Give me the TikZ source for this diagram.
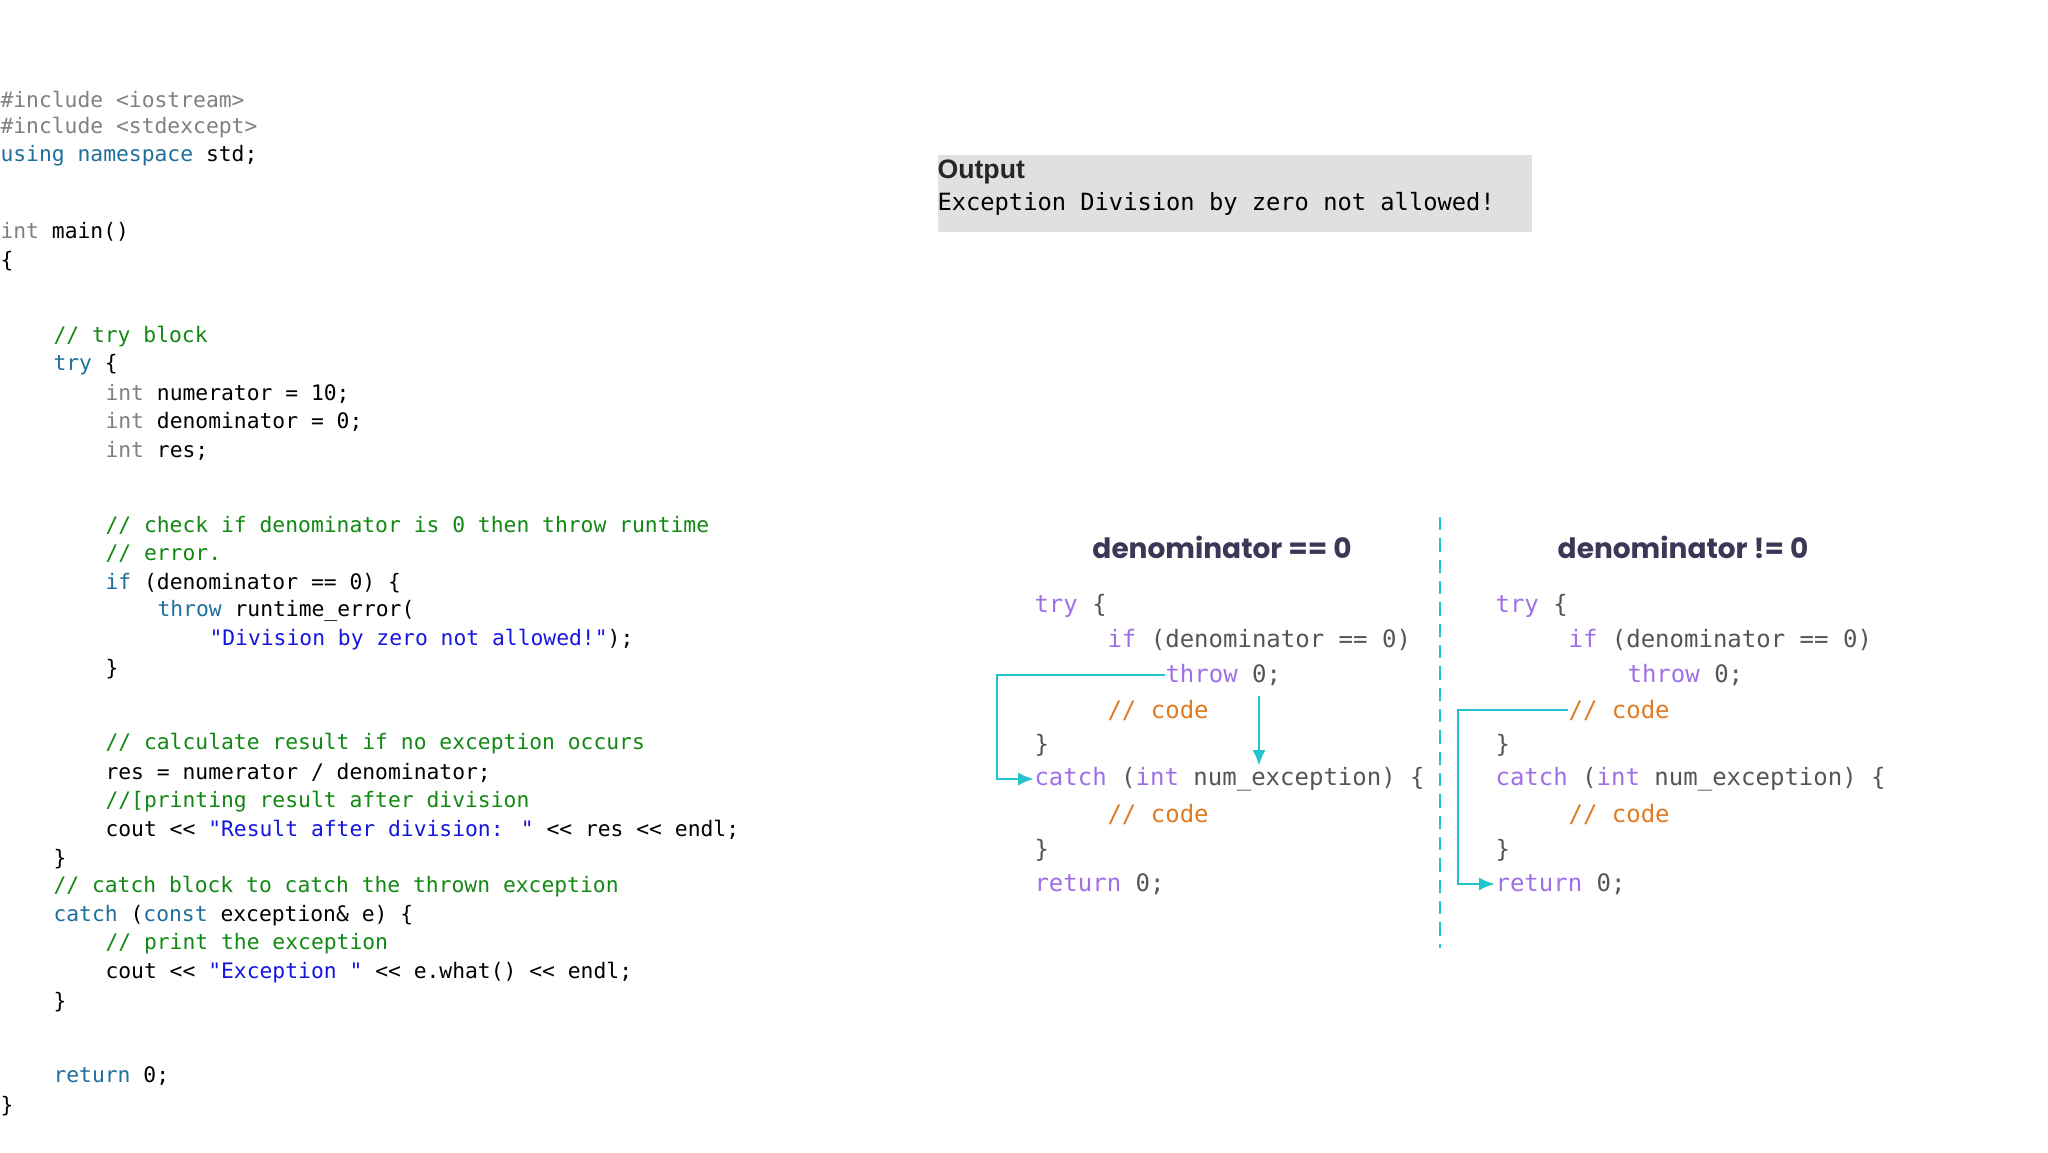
\documentclass[tikz,border=0pt]{standalone}
\usepackage{fontspec}
\setmainfont{Liberation Sans}
\newfontfamily\codefont{DejaVu Sans Mono}
\newfontfamily\titlefont{Poppins}
\definecolor{kw}{HTML}{1F6E9C}
\definecolor{cm}{HTML}{118811}
\definecolor{st}{HTML}{1515E0}
\definecolor{gr}{HTML}{808080}
\definecolor{pk}{HTML}{9F6FE6}
\definecolor{oc}{HTML}{E07B22}
\definecolor{dg}{HTML}{555555}
\definecolor{tl}{HTML}{22C3CC}
\definecolor{tt}{HTML}{3B3857}
\newcommand{\Kw}[1]{\textcolor{kw}{#1}}
\newcommand{\Cm}[1]{\textcolor{cm}{#1}}
\newcommand{\Sx}[1]{\textcolor{st}{#1}}
\newcommand{\Gy}[1]{\textcolor{gr}{#1}}
\newcommand{\Pk}[1]{\textcolor{pk}{#1}}
\newcommand{\Oc}[1]{\textcolor{oc}{#1}}
\usetikzlibrary{arrows.meta}
\tikzset{
 lc/.style={anchor=west,inner sep=0,font=\codefont\fontsize{8}{9}\selectfont},
 dc/.style={anchor=west,inner sep=0,text=dg,font=\codefont\fontsize{9}{10}\selectfont},
 ttl/.style={inner sep=0,text=tt,font=\titlefont\bfseries\fontsize{10.5}{12}\selectfont},
 flow/.style={draw=tl,line width=1.1pt,-{Latex[length=6pt,width=5pt]}}
}
\begin{document}
\begin{tikzpicture}[x=0.375pt,y=-0.375pt]
\useasboundingbox (0,0) rectangle (2048,1152);
% left code
\node[lc] (a1) at (0,99) {\Gy{\#include <iostream>}};
\node[lc] (a2) at (0,128) {\Gy{\#include <stdexcept>}};
\node[lc] (a3) at (0,156) {\Kw{using namespace} std;};
\node[lc] (a4) at (0,232) {\Gy{int} main()};
\node[lc] (a5) at (0,261) {\{};
\node[lc] (a6) at (53,337) {\Cm{// try block}};
\node[lc] (a7) at (53,365) {\Kw{try} \{};
\node[lc] (a8) at (105,394) {\Gy{int} numerator = 10;};
\node[lc] (a9) at (105,422) {\Gy{int} denominator = 0;};
\node[lc] (a10) at (105,451) {\Gy{int} res;};
\node[lc] (a11) at (105,525) {\Cm{// check if denominator is 0 then throw runtime}};
\node[lc] (a12) at (105,554) {\Cm{// error.}};
\node[lc] (a13) at (105,583) {\Kw{if} (denominator == 0) \{};
\node[lc] (a14) at (157,611) {\Kw{throw} runtime\_error(};
\node[lc] (a15) at (209,640) {\Sx{"Division by zero not allowed!"});};
\node[lc] (a16) at (105,669) {\}};
\node[lc] (a17) at (105,744) {\Cm{// calculate result if no exception occurs}};
\node[lc] (a18) at (105,773) {res = numerator / denominator;};
\node[lc] (a19) at (105,802) {\Cm{//[printing result after division}};
\node[lc] (a20) at (105,830) {cout << \Sx{"Result after division: "} << res << endl;};
\node[lc] (a21) at (53,859) {\}};
\node[lc] (a22) at (53,887) {\Cm{// catch block to catch the thrown exception}};
\node[lc] (a23) at (53,916) {\Kw{catch} (\Kw{const} exception\& e) \{};
\node[lc] (a24) at (105,944) {\Cm{// print the exception}};
\node[lc] (a25) at (105,973) {cout << \Sx{"Exception "} << e.what() << endl;};
\node[lc] (a26) at (53,1002) {\}};
\node[lc] (a27) at (53,1076) {\Kw{return} 0;};
\node[lc] (a28) at (0,1106) {\}};
% output box
\node[fill=black!12,minimum width=594*0.375pt,minimum height=77*0.375pt,inner sep=0,anchor=north west] (ob) at (937,154) {};
\node[anchor=west,inner sep=0,font=\bfseries\fontsize{10}{12}\selectfont,text=black!85] (ot) at (937,172) {Output};
\node[anchor=west,inner sep=0,font=\codefont\fontsize{8.9}{10}\selectfont] (om) at (937,204) {Exception Division by zero not allowed!};
% titles and divider
\node[ttl] (t1) at (1222,547) {denominator == 0};
\node[ttl] (t2) at (1683,547) {denominator != 0};
\coordinate (d1) at (1440,517); \coordinate (d2) at (1440,948);
\draw[tl,line width=1pt,dash pattern=on 5pt off 3pt] (d1) -- (d2);
% left diagram code
\node[dc] (b1) at (1034,606) {\Pk{try} \{};
\node[dc] (b2) at (1107,640) {\Pk{if} (denominator == 0)};
\node[dc] (b3) at (1165,675) {\Pk{throw} 0;};
\node[dc] (b4) at (1107,710) {\Oc{// code}};
\node[dc] (b5) at (1034,745) {\}};
\node[dc] (b6) at (1034,779) {\Pk{catch} (\Pk{int} num\_exception) \{};
\node[dc] (b7) at (1107,814) {\Oc{// code}};
\node[dc] (b8) at (1034,850) {\}};
\node[dc] (b9) at (1034,884) {\Pk{return} 0;};
% right diagram code
\node[dc] (c1) at (1495,606) {\Pk{try} \{};
\node[dc] (c2) at (1568,640) {\Pk{if} (denominator == 0)};
\node[dc] (c3) at (1627,675) {\Pk{throw} 0;};
\node[dc] (c4) at (1568,710) {\Oc{// code}};
\node[dc] (c5) at (1495,745) {\}};
\node[dc] (c6) at (1495,779) {\Pk{catch} (\Pk{int} num\_exception) \{};
\node[dc] (c7) at (1568,814) {\Oc{// code}};
\node[dc] (c8) at (1495,850) {\}};
\node[dc] (c9) at (1495,884) {\Pk{return} 0;};
% arrows
\coordinate (p1) at (997,675);
\coordinate (p2) at (997,779);
\draw[flow] (b3.west) -- (p1) -- (p2) -- (b6.west);
\coordinate (q1) at (1259,696);
\coordinate (q2) at (1259,766);
\draw[flow] (q1) -- (q2);
\coordinate (r1) at (1458,710);
\coordinate (r2) at (1458,884);
\draw[flow] (c4.west) -- (r1) -- (r2) -- (c9.west);
\end{tikzpicture}
\end{document}
